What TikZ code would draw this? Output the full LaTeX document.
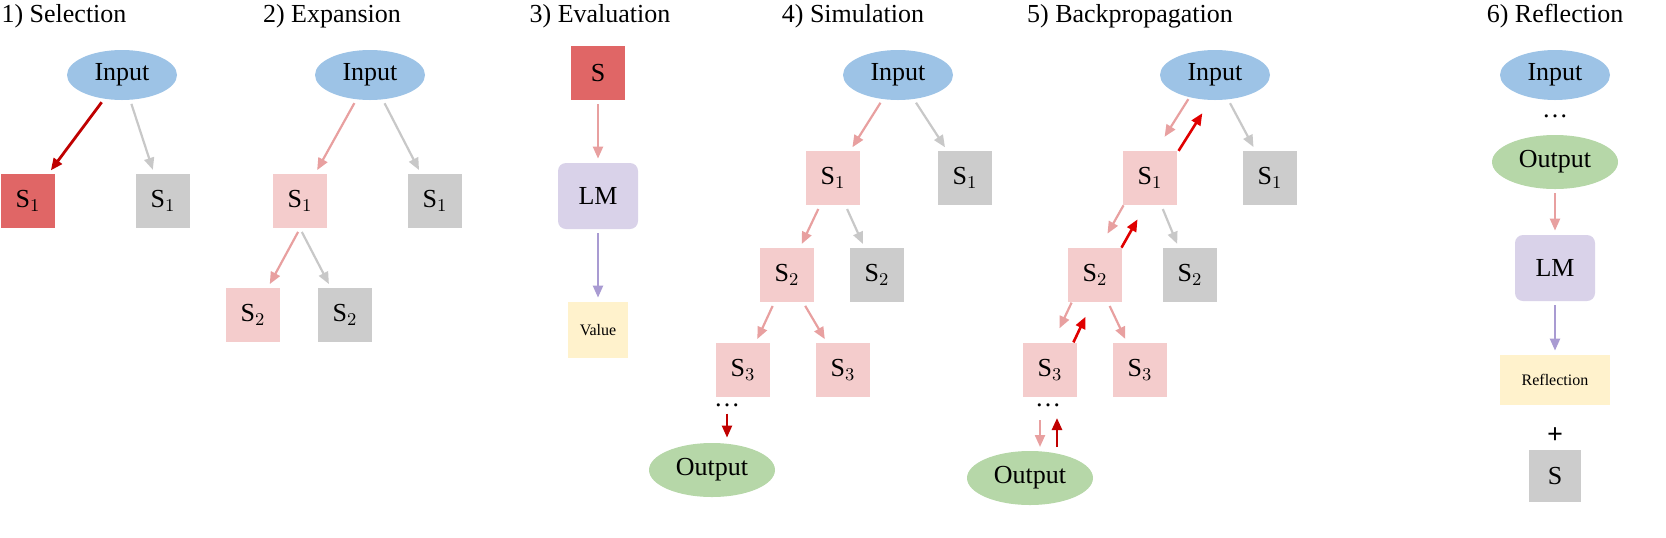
\documentclass[tikz,border=0pt]{standalone}
\usepackage{fontspec}
\setmainfont{Liberation Serif}
\usetikzlibrary{arrows.meta,shapes.geometric}
\definecolor{cblue}{HTML}{9DC3E6}
\definecolor{cred}{HTML}{E06666}
\definecolor{cpink}{HTML}{F4CCCC}
\definecolor{cgray}{HTML}{CCCCCC}
\definecolor{clav}{HTML}{D9D2E9}
\definecolor{cyel}{HTML}{FFF2CC}
\definecolor{cgreen}{HTML}{B6D7A8}
\definecolor{apink}{HTML}{E8A0A0}
\definecolor{agray}{HTML}{C8C8C8}
\definecolor{apur}{HTML}{A99BD2}
\definecolor{ared}{HTML}{E00000}
\definecolor{adred}{HTML}{C00000}
\tikzset{
 x=0.5pt,y=-0.5pt,
 every node/.style={font=\fontsize{13}{15}\selectfont},
 ttl/.style={font=\fontsize{13}{15}\selectfont},
 ell/.style={ellipse,fill=cblue,minimum width=55pt,minimum height=25pt,inner sep=0pt},
 gell/.style={ellipse,fill=cgreen,minimum width=63pt,minimum height=27pt,inner sep=0pt},
 box/.style={rectangle,minimum size=27pt,inner sep=0pt},
 rbox/.style={box,fill=cred},
 pbox/.style={box,fill=cpink},
 gbox/.style={box,fill=cgray},
 lm/.style={rectangle,rounded corners=4pt,fill=clav,minimum width=40pt,minimum height=33pt},
 ybox/.style={rectangle,fill=cyel,minimum width=30pt,minimum height=28pt,inner sep=2pt,font=\fontsize{8}{9}\selectfont},
 arr/.style={line width=1.1pt,-{Triangle[length=6pt,width=5pt]},shorten >=2pt,shorten <=2pt},
 pa/.style={arr,apink},
 ga/.style={arr,agray},
 ra/.style={arr,red!75!black,line width=1.4pt},
 pu/.style={arr,apur},
 rr/.style={arr,ared,line width=1.3pt},
 lsh/.style={transform canvas={xshift=-3.5pt,yshift=3.5pt},shorten <=4pt,shorten >=4pt},
 rsh/.style={transform canvas={xshift=3.5pt,yshift=-3.5pt},shorten <=4pt,shorten >=4pt},
}
\begin{document}
\begin{tikzpicture}
\useasboundingbox (0,0) rectangle (1666,537);
% titles
\node[ttl] (t1) at (64,16) {1) Selection};
\node[ttl] (t2) at (332,16) {2) Expansion};
\node[ttl] (t3) at (600,16) {3) Evaluation};
\node[ttl] (t4) at (853,16) {4) Simulation};
\node[ttl] (t5) at (1130,16) {5) Backpropagation};
\node[ttl] (t6) at (1555,16) {6) Reflection};
% panel 1
\node[ell] (in1) at (122,75) {Input};
\node[rbox] (a1) at (28,201) {S$_1$};
\node[gbox] (b1) at (163,201) {S$_1$};
\draw[ra] (in1) -- (a1);
\draw[ga] (in1) -- (b1);
% panel 2
\node[ell] (in2) at (370,75) {Input};
\node[pbox] (a2) at (300,201) {S$_1$};
\node[gbox] (b2) at (435,201) {S$_1$};
\node[pbox] (c2) at (253,315) {S$_2$};
\node[gbox] (d2) at (345,315) {S$_2$};
\draw[pa] (in2) -- (a2);
\draw[ga] (in2) -- (b2);
\draw[pa] (a2.south) -- (c2);
\draw[ga] (a2.south) -- (d2);
% panel 3
\node[rbox] (s3) at (598,73) {S};
\node[lm] (lm3) at (598,196) {LM};
\node[ybox] (v3) at (598,330) {Value};
\draw[pa] (s3) -- (lm3);
\draw[pu] (lm3) -- (v3);
% panel 4
\node[ell] (in4) at (898,75) {Input};
\node[pbox] (a4) at (833,178) {S$_1$};
\node[gbox] (b4) at (965,178) {S$_1$};
\node[pbox] (c4) at (787,275) {S$_2$};
\node[gbox] (d4) at (877,275) {S$_2$};
\node[pbox] (e4) at (743,370) {S$_3$};
\node[pbox] (f4) at (843,370) {S$_3$};
\node (dots4) at (727,405) {\dots};
\node[gell] (o4) at (712,470) {Output};
\draw[pa] (in4) -- (a4);
\draw[ga] (in4) -- (b4);
\draw[pa] (a4) -- (c4);
\draw[ga] (a4) -- (d4);
\draw[pa] (c4) -- (e4);
\draw[pa] (c4) -- (f4);
\draw[arr,adred,shorten <=0pt] (dots4.south) -- ++(0,28);
% panel 5
\node[ell] (in5) at (1215,75) {Input};
\node[pbox] (a5) at (1150,178) {S$_1$};
\node[gbox] (b5) at (1270,178) {S$_1$};
\node[pbox] (c5) at (1095,275) {S$_2$};
\node[gbox] (d5) at (1190,275) {S$_2$};
\node[pbox] (e5) at (1050,370) {S$_3$};
\node[pbox] (f5) at (1140,370) {S$_3$};
\node (dots5) at (1048,405) {\dots};
\node[gell] (o5) at (1030,478) {Output};
\draw[pa,lsh] (in5) -- (a5);
\draw[rr,rsh] (a5) -- (in5);
\draw[ga] (in5) -- (b5);
\draw[pa,lsh] (a5) -- (c5);
\draw[rr,rsh] (c5) -- (a5);
\draw[ga] (a5) -- (d5);
\draw[pa,lsh] (c5) -- (e5);
\draw[rr,rsh] (e5) -- (c5);
\draw[pa] (c5) -- (f5);
\coordinate (p5a) at (1040,420);
\coordinate (p5b) at (1040,447);
\coordinate (p5c) at (1057,447);
\coordinate (p5d) at (1057,418);
\draw[pa,shorten <=0pt,shorten >=0pt] (p5a) -- (p5b);
\draw[arr,adred,line width=1.3pt,shorten <=0pt,shorten >=0pt] (p5c) -- (p5d);
% panel 6
\node[ell] (in6) at (1555,75) {Input};
\node (dots6) at (1555,116) {\dots};
\node[gell] (o6) at (1555,162) {Output};
\node[lm] (lm6) at (1555,268) {LM};
\node[ybox,minimum width=55pt,minimum height=25pt] (r6) at (1555,380) {Reflection};
\node[font=\fontsize{14}{16}\selectfont\bfseries] (plus6) at (1555,436) {+};
\node[gbox,minimum size=26pt] (s6) at (1555,476) {S};
\draw[pa] (o6) -- (lm6);
\draw[pu] (lm6) -- (r6);
\end{tikzpicture}
\end{document}
